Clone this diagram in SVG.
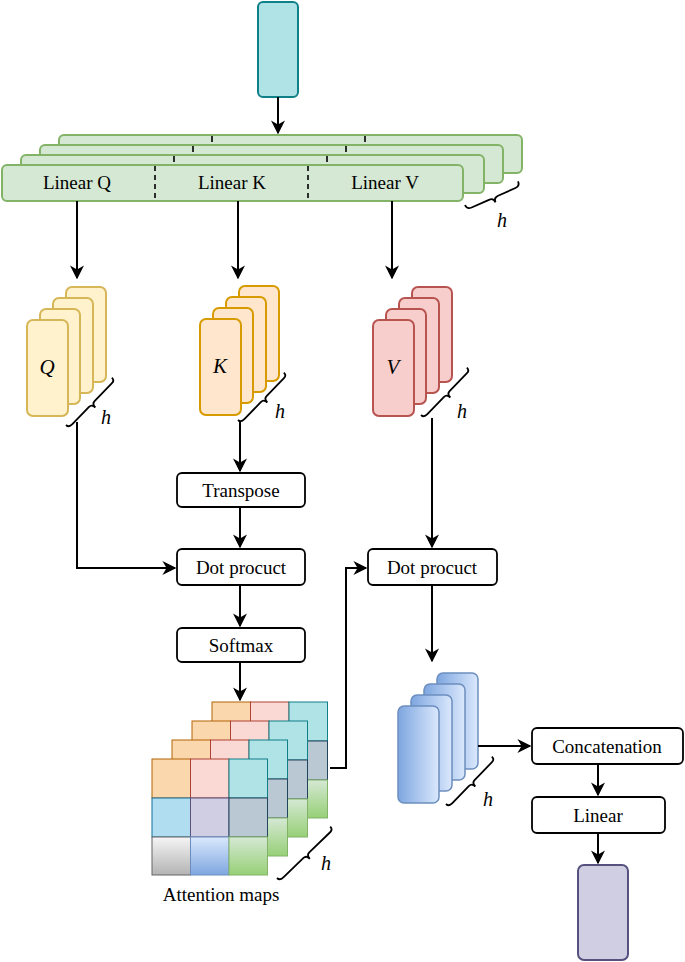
<svg xmlns="http://www.w3.org/2000/svg" width="685" height="962" viewBox="0 0 685 962" font-family="Liberation Serif, serif" font-size="19" text-anchor="middle">
<defs>
<marker id="ah" viewBox="0 0 10 10" refX="9" refY="5" markerWidth="14" markerHeight="14" orient="auto" markerUnits="userSpaceOnUse"><path d="M0,0 L10,5 L0,10 L3,5 z" fill="#000"/></marker>
<linearGradient id="gBlue" x1="0" y1="0" x2="1" y2="0"><stop offset="0" stop-color="#7ea6e0"/><stop offset="1" stop-color="#dae8fc"/></linearGradient>
<linearGradient id="gGray" x1="0" y1="0" x2="0" y2="1"><stop offset="0" stop-color="#f5f5f5"/><stop offset="1" stop-color="#b3b3b3"/></linearGradient>
<linearGradient id="gB2" x1="0" y1="0" x2="0" y2="1"><stop offset="0" stop-color="#dae8fc"/><stop offset="1" stop-color="#7ea6e0"/></linearGradient>
<linearGradient id="gGreen" x1="0" y1="0" x2="0" y2="1"><stop offset="0" stop-color="#d5e8d4"/><stop offset="1" stop-color="#97d077"/></linearGradient>
<g id="layer">
<rect x="0" y="0" width="38.5" height="39" fill="#fad7ac" stroke="#b46504"/>
<rect x="38.5" y="0" width="38.5" height="39" fill="#fad9d5" stroke="#ae4132"/>
<rect x="77" y="0" width="38.5" height="39" fill="#b0e3e6" stroke="#0e8088"/>
<rect x="0" y="39" width="38.5" height="39" fill="#b1ddf0" stroke="#10739e"/>
<rect x="38.5" y="39" width="38.5" height="39" fill="#d0cee2" stroke="#56517e"/>
<rect x="77" y="39" width="38.5" height="39" fill="#bac8d3" stroke="#23445d"/>
<rect x="0" y="78" width="38.5" height="38" fill="url(#gGray)" stroke="#666"/>
<rect x="38.5" y="78" width="38.5" height="38" fill="url(#gB2)" stroke="#6c8ebf"/>
<rect x="77" y="78" width="38.5" height="38" fill="url(#gGreen)" stroke="#82b366"/>
</g>
</defs>
<style>
.it{font-style:italic}
.box{fill:#fff;stroke:#000;stroke-width:1.8}
.ln{fill:#d5e8d4;stroke:#82b366;stroke-width:2}
.q{fill:#fff2cc;stroke:#d6b656;stroke-width:2}
.k{fill:#ffe6cc;stroke:#d79b00;stroke-width:2}
.v{fill:#f8cecc;stroke:#b85450;stroke-width:2}
.b{fill:url(#gBlue);stroke:#6c8ebf;stroke-width:1.5}
.c{fill:none;stroke:#000;stroke-width:2;marker-end:url(#ah)}
.br{fill:none;stroke:#000;stroke-width:1.8}
</style>
<g id="input"><rect x="258" y="2" width="40" height="95" rx="5" fill="#b0e3e6" stroke="#0e8088" stroke-width="2"/></g>
<g id="linear">
<rect class="ln" x="59" y="135" width="463" height="38" rx="5"/>
<rect class="ln" x="40" y="145" width="463" height="38" rx="5"/>
<rect class="ln" x="21" y="155" width="463" height="38" rx="5"/>
<rect class="ln" x="2" y="165" width="461" height="36" rx="5"/>
<path d="M155,166V200M308,166V200" stroke="#000" stroke-width="1.6" stroke-dasharray="5,4"/>
<path d="M174,156V162M327,156V162M193,146V152M346,146V152M212,136V142M365,136V142" stroke="#000" stroke-width="1.6"/>
<text x="77" y="189">Linear Q</text><text x="232" y="189">Linear K</text><text x="385" y="189">Linear V</text>
</g>
<g id="Q"><rect class="q" x="66" y="287" width="40" height="95" rx="6"/><rect class="q" x="53" y="298" width="40" height="95" rx="6"/><rect class="q" x="40" y="309" width="40" height="95" rx="6"/><rect class="q" x="27" y="320" width="41" height="96" rx="6"/><text class="it" x="47" y="374" font-size="21">Q</text></g>
<g id="K"><rect class="k" x="239" y="286" width="40" height="95" rx="6"/><rect class="k" x="226" y="297" width="40" height="95" rx="6"/><rect class="k" x="213" y="308" width="40" height="95" rx="6"/><rect class="k" x="200" y="319" width="41" height="96" rx="6"/><text class="it" x="220" y="373" font-size="21">K</text></g>
<g id="V"><rect class="v" x="412" y="287" width="40" height="95" rx="6"/><rect class="v" x="399" y="298" width="40" height="95" rx="6"/><rect class="v" x="386" y="309" width="40" height="95" rx="6"/><rect class="v" x="373" y="320" width="41" height="96" rx="6"/><text class="it" x="393" y="374" font-size="21">V</text></g>
<g id="transpose"><rect class="box" x="177" y="473" width="128" height="34" rx="5"/><text x="241" y="497">Transpose</text></g>
<g id="dot1"><rect class="box" x="177" y="549" width="128" height="36" rx="5"/><text x="241" y="574">Dot procuct</text></g>
<g id="softmax"><rect class="box" x="177" y="628" width="128" height="34" rx="5"/><text x="241" y="652">Softmax</text></g>
<g id="dot2"><rect class="box" x="368" y="549" width="129" height="36" rx="5"/><text x="432" y="574">Dot procuct</text></g>
<g id="attn">
<use href="#layer" x="212" y="702"/><use href="#layer" x="192" y="721"/><use href="#layer" x="172" y="740"/><use href="#layer" x="152" y="759"/>
<text x="221" y="901">Attention maps</text>
</g>
<g id="heads"><rect class="b" x="437" y="673" width="41" height="96" rx="6"/><rect class="b" x="424" y="684" width="41" height="96" rx="6"/><rect class="b" x="411" y="695" width="41" height="96" rx="6"/><rect class="b" x="398" y="706" width="41" height="97" rx="6"/></g>
<g id="concat"><rect class="box" x="532" y="728" width="151" height="36" rx="5"/><text x="607" y="753">Concatenation</text></g>
<g id="lin2"><rect class="box" x="532" y="797" width="133" height="36" rx="5"/><text x="598" y="822">Linear</text></g>
<g id="output"><rect x="578" y="865" width="50" height="95" rx="6" fill="#d0cee2" stroke="#56517e" stroke-width="2"/></g>
<g id="braces">
<path class="br" transform="translate(465,205) rotate(-24)" d="M0,0 q0,5 5,5 h19 q5,0 5,5 q0,-5 5,-5 h19 q5,0 5,-5"/>
<path class="br" transform="translate(66,425) rotate(-46)" d="M0,0 q0,4 5,4 h24 q4,0 4,5 q0,-5 4,-5 h25 q4,0 4,-4"/>
<path class="br" transform="translate(238,420) rotate(-46)" d="M0,0 q0,4 5,4 h24 q4,0 4,5 q0,-5 4,-5 h25 q4,0 4,-4"/>
<path class="br" transform="translate(421,415) rotate(-46)" d="M0,0 q0,4 5,4 h24 q4,0 4,5 q0,-5 4,-5 h25 q4,0 4,-4"/>
<path class="br" transform="translate(446,804) rotate(-46)" d="M0,0 q0,4 5,4 h24 q4,0 4,5 q0,-5 4,-5 h25 q4,0 4,-4"/>
<path class="br" transform="translate(277,878) rotate(-44)" d="M0,0 q0,4 5,4 h28 q4,0 4,5 q0,-5 4,-5 h29 q4,0 4,-4"/>
<g class="it" font-size="20"><text x="502" y="227">h</text><text x="106" y="424">h</text><text x="280" y="418">h</text><text x="462" y="418">h</text><text x="488" y="806">h</text><text x="326" y="870">h</text></g>
</g>
<g id="connectors">
<path class="c" d="M278,97V133"/>
<path class="c" d="M77,201V278"/>
<path class="c" d="M238,201V278"/>
<path class="c" d="M392,201V278"/>
<path class="c" d="M77,422V568H175"/>
<path class="c" d="M240,422V471"/>
<path class="c" d="M240,507V547"/>
<path class="c" d="M240,585V626"/>
<path class="c" d="M240,662V700"/>
<path class="c" d="M432,418V547"/>
<path class="c" d="M330,768H346V568H366"/>
<path class="c" d="M432,585V661"/>
<path class="c" d="M478,746H530"/>
<path class="c" d="M598,764V795"/>
<path class="c" d="M598,833V863"/>
</g>
</svg>
